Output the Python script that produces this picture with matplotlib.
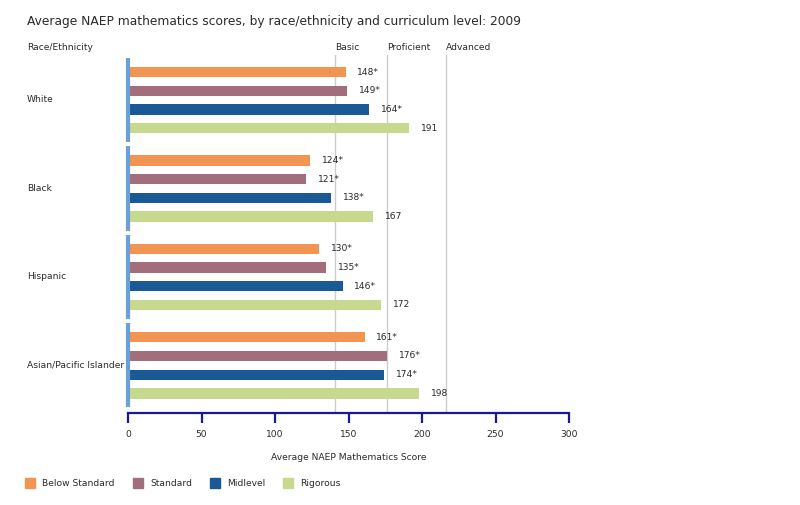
import matplotlib.pyplot as plt
from matplotlib.patches import Rectangle

groups = ["White", "Black", "Hispanic", "Asian/Pacific Islander"]
levels = ["Below Standard", "Standard", "Midlevel", "Rigorous"]
scores = {
    "Below Standard": [148, 124, 130, 161],
    "Standard": [149, 121, 135, 176],
    "Midlevel": [164, 138, 146, 174],
    "Rigorous": [191, 167, 172, 198],
}
labels = {
    "Below Standard": ["148*", "124*", "130*", "161*"],
    "Standard": ["149*", "121*", "135*", "176*"],
    "Midlevel": ["164*", "138*", "146*", "174*"],
    "Rigorous": ["191", "167", "172", "198"],
}
cutoffs = [141, 176, 216]
cutoff_names = ["Basic", "Proficient", "Advanced"]
colors = ["#F29552", "#A26E7C", "#195A96", "#C6D98F"]

fs = 6.6
tc = "#2a2a2a"

fig = plt.figure(figsize=(8, 5.05), dpi=100)
ax = fig.add_axes([128 / 800, 1 - 413 / 505, 441 / 800, 358 / 505])

pitch = 4.73
for j, lev in enumerate(levels):
    ys = [g * pitch + j for g in range(len(groups))]
    ax.barh(ys, scores[lev], height=0.55, color=colors[j], zorder=2)
    for y, v, t in zip(ys, scores[lev], labels[lev]):
        ax.text(v + 8, y, t, va="center", ha="left", fontsize=fs, color=tc)

# group separators on the left
for g in range(len(groups)):
    ax.plot([0, 0], [g * pitch - 0.75, g * pitch + 3.75], color="#6A9FD8",
            lw=3, solid_capstyle="butt", clip_on=False, zorder=3)
    fig.text(27 / 800, 1 - (72 + g * pitch * 18.7 + 28) / 505, groups[g],
             fontsize=fs, va="center", ha="left", color=tc)

for c, name in zip(cutoffs, cutoff_names):
    ax.axvline(c, ymin=0, ymax=1, color="#CCCCCC", lw=1, zorder=1)
    ax.text(c, -1.05, name, fontsize=fs, ha="left", va="bottom", color=tc)

ax.set_xlim(0, 300)
ax.set_ylim(18.24, -0.91)
ax.set_yticks([])
ax.set_xticks(range(0, 301, 50))
for s in ["top", "right", "left"]:
    ax.spines[s].set_visible(False)
ax.spines["bottom"].set_color("#1A1A8C")
ax.spines["bottom"].set_linewidth(1.6)
ax.tick_params(axis="x", direction="out", length=7, width=1.6, color="#1A1A8C",
               labelsize=fs, labelcolor=tc, pad=5)
ax.set_xlabel("Average NAEP Mathematics Score", fontsize=fs, color=tc,
              labelpad=10)

fig.text(27 / 800, 1 - 22 / 505, "Average NAEP mathematics scores, by race/ethnicity and curriculum level: 2009",
         fontsize=8.8, va="center", ha="left", color=tc)
fig.text(27 / 800, 1 - 48 / 505, "Race/Ethnicity", fontsize=fs, va="center",
         ha="left", color=tc)

# legend
leg_x = [25, 133, 210, 283]
for x, lev, col in zip(leg_x, levels, colors):
    fig.patches.append(Rectangle((x / 800, 1 - 488 / 505), 10 / 800, 10 / 505,
                                 transform=fig.transFigure, color=col))
    fig.text((x + 17) / 800, 1 - 483 / 505, lev, fontsize=fs, va="center",
             ha="left", color=tc)

fig.savefig("out.png", dpi=100)
